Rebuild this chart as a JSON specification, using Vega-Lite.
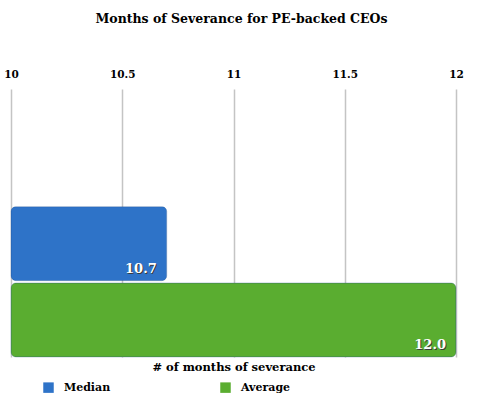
{
  "$schema": "https://vega.github.io/schema/vega-lite/v6.json",
  "width": 445,
  "height": 268,
  "padding": {"left": 3, "top": 12, "right": 10, "bottom": 10},
  "background": "white",
  "title": {
    "text": "Months of Severance for PE-backed CEOs",
    "font": "DejaVu Serif",
    "fontSize": 12.5,
    "fontWeight": "bold",
    "color": "black",
    "anchor": "middle",
    "dx": 8,
    "offset": 44
  },
  "config": {
    "view": {"stroke": null},
    "font": "DejaVu Serif"
  },
  "data": {
    "values": [
      {"stat": "Median", "months": 10.7, "label": "10.7"},
      {"stat": "Average", "months": 12.0, "label": "12.0"}
    ]
  },
  "encoding": {
    "y": {
      "field": "stat",
      "type": "nominal",
      "sort": ["Median", "Average"],
      "axis": null,
      "scale": {"paddingInner": 0.03, "paddingOuter": 0.77, "align": 1}
    }
  },
  "layer": [
    {
      "mark": {"type": "bar", "cornerRadius": 5, "stroke": "#1f4f8f", "strokeOpacity": 0.25},
      "encoding": {
        "x": {
          "field": "months",
          "type": "quantitative",
          "scale": {"domain": [10, 12], "zero": false, "nice": false, "clamp": true},
          "axis": {
            "orient": "top",
            "values": [10, 10.5, 11, 11.5, 12],
            "format": "~g",
            "title": null,
            "grid": true,
            "gridColor": "#c4c4c4",
            "gridWidth": 1.5,
            "ticks": false,
            "domain": false,
            "labelFont": "DejaVu Serif",
            "labelFontSize": 10.5,
            "labelFontWeight": "bold",
            "labelColor": "black",
            "labelPadding": 10,
            "labelFlush": false
          }
        },
        "color": {
          "field": "stat",
          "type": "nominal",
          "sort": ["Median", "Average"],
          "scale": {"domain": ["Median", "Average"], "range": ["#2e73c8", "#5aad30"]},
          "legend": {
            "orient": "none",
            "legendX": 32,
            "legendY": 293,
            "direction": "horizontal",
            "title": null,
            "symbolType": "square",
            "symbolSize": 110,
            "symbolStrokeWidth": 0,
            "symbolOpacity": 1,
            "labelFont": "DejaVu Serif",
            "labelFontSize": 11,
            "labelFontWeight": "bold",
            "labelColor": "black",
            "labelOffset": 10,
            "columnPadding": 109
          }
        }
      }
    },
    {
      "mark": {"type": "text", "align": "right", "baseline": "bottom", "dx": -9, "dy": 33, "font": "DejaVu Serif", "fontSize": 13, "fontWeight": "bold", "color": "#3a3a3a"},
      "encoding": {
        "x": {"field": "months", "type": "quantitative", "scale": {"domain": [10, 12], "zero": false, "nice": false, "clamp": true}, "axis": null},
        "text": {"field": "label"}
      }
    },
    {
      "mark": {"type": "text", "align": "right", "baseline": "bottom", "dx": -10, "dy": 32, "font": "DejaVu Serif", "fontSize": 13, "fontWeight": "bold", "color": "white"},
      "encoding": {
        "x": {
          "field": "months",
          "type": "quantitative",
          "scale": {"domain": [10, 12], "zero": false, "nice": false, "clamp": true},
          "axis": {
            "orient": "bottom",
            "title": "#  of months of severance",
            "titleFont": "DejaVu Serif",
            "titleFontSize": 11.5,
            "titleFontWeight": "bold",
            "titleColor": "black",
            "titlePadding": 4,
            "labels": false,
            "ticks": false,
            "domain": false,
            "grid": false
          }
        },
        "text": {"field": "label"}
      }
    }
  ],
  "resolve": {"axis": {"x": "independent"}}
}
